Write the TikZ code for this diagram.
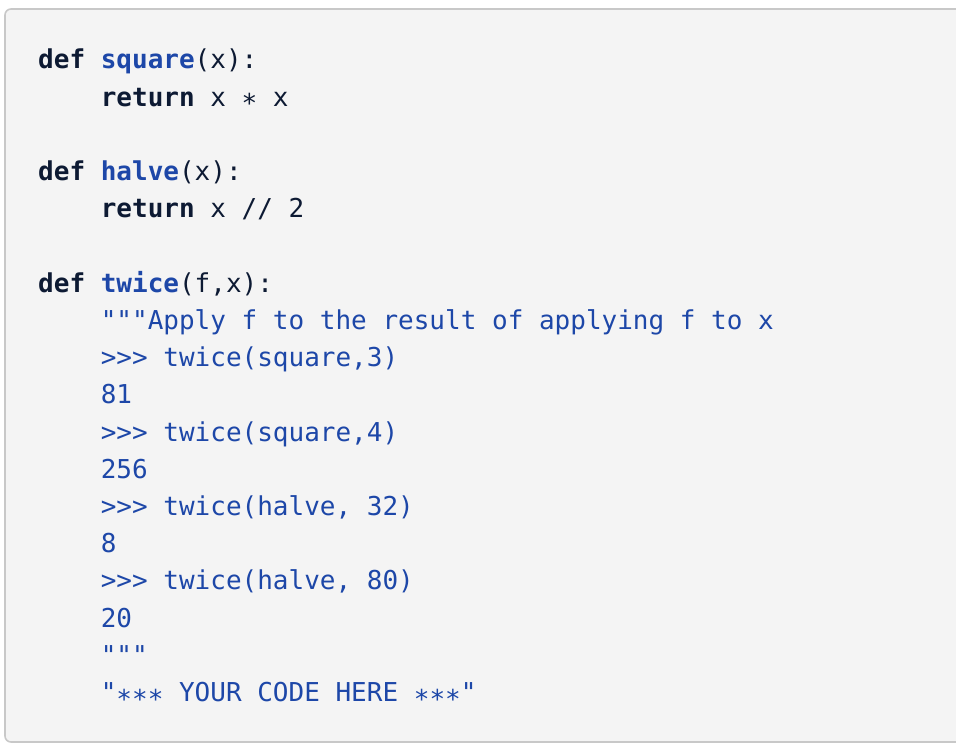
\documentclass[tikz,border=0pt]{standalone}
\usepackage{fontspec}
\setmonofont{DejaVu Sans Mono}
\definecolor{codedark}{HTML}{0D1A33}
\definecolor{codeblue}{HTML}{1D47A8}
\definecolor{codebg}{HTML}{F4F4F4}
\definecolor{codeframe}{HTML}{C8C8C8}
\newcommand{\kw}[1]{\textbf{#1}}
\newcommand{\fn}[1]{\textcolor{codeblue}{\textbf{#1}}}
\newcommand{\lowstar}{\raisebox{-0.26em}{*}}

\begin{document}
\begin{tikzpicture}[x=1pt,y=-1pt,
    codebox/.style={draw=codeframe,fill=codebg,line width=1.6pt,rounded corners=6pt},
    codeline/.style={anchor=base west,inner sep=0pt,text=codedark,
      font=\ttfamily\fontsize{26}{37}\selectfont},
    docline/.style={codeline,text=codeblue}]
  \useasboundingbox (0,0) rectangle (956,746);
  \draw[codebox] (5,9) rectangle (980,742);

  % first function
  \node[codeline] (sqdef) at (38,69) {\kw{def} \fn{square}(x):};
  \node[codeline] (sqret) at (100.6,106.2) {\kw{return} x \lowstar{} x};

  % second function
  \node[codeline] (hvdef) at (38,180.6) {\kw{def} \fn{halve}(x):};
  \node[codeline] (hvret) at (100.6,217.8) {\kw{return} x // 2};

  % third function with its docstring
  \node[codeline] (twdef) at (38,292.2) {\kw{def} \fn{twice}(f,x):};
  \node[docline] (doc1) at (100.6,329.4) {"""Apply f to the result of applying f to x};
  \node[docline] (doc2) at (100.6,366.6) {>>> twice(square,3)};
  \node[docline] (doc3) at (100.6,403.8) {81};
  \node[docline] (doc4) at (100.6,441) {>>> twice(square,4)};
  \node[docline] (doc5) at (100.6,478.2) {256};
  \node[docline] (doc6) at (100.6,515.4) {>>> twice(halve, 32)};
  \node[docline] (doc7) at (100.6,552.6) {8};
  \node[docline] (doc8) at (100.6,589.8) {>>> twice(halve, 80)};
  \node[docline] (doc9) at (100.6,627) {20};
  \node[docline] (doc10) at (100.6,664.2) {"""};
  \node[docline] (todo) at (100.6,701.4) {"\lowstar\lowstar\lowstar{} YOUR CODE HERE \lowstar\lowstar\lowstar"};
\end{tikzpicture}
\end{document}
